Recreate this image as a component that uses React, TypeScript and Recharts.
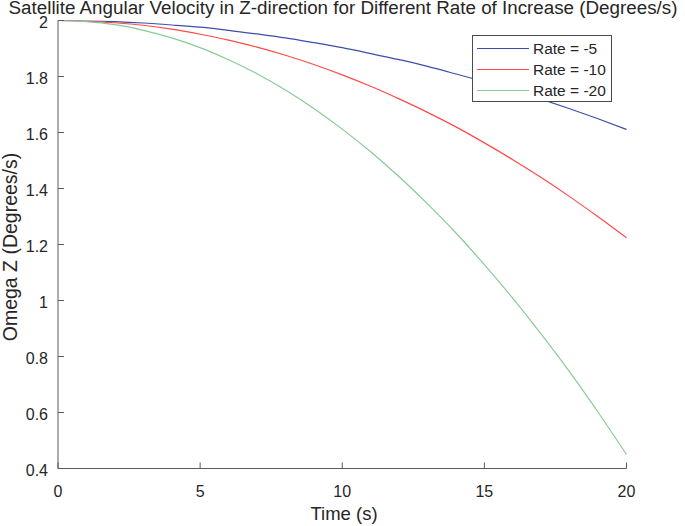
import React from "react";
import { LineChart, Line, XAxis, YAxis, Label } from "recharts";

const timeS = [0, 1, 2, 3, 4, 5, 6, 7, 8, 9, 10, 11, 12, 13, 14, 15, 16, 17, 18, 19, 20];
const omegaRate5 = [2, 1.999, 1.996, 1.991, 1.984, 1.976, 1.965, 1.952, 1.938, 1.921, 1.903, 1.882, 1.86, 1.836, 1.809, 1.781, 1.751, 1.719, 1.685, 1.649, 1.611];
const omegaRate10 = [2, 1.998, 1.992, 1.983, 1.969, 1.951, 1.93, 1.905, 1.876, 1.843, 1.806, 1.765, 1.72, 1.672, 1.62, 1.563, 1.503, 1.439, 1.371, 1.299, 1.224];
const omegaRate20 = [2, 1.996, 1.985, 1.965, 1.938, 1.903, 1.86, 1.81, 1.752, 1.686, 1.612, 1.531, 1.442, 1.345, 1.241, 1.128, 1.008, 0.88, 0.745, 0.601, 0.45];
const xTicks = [0, 5, 10, 15, 20];
const yTicks = [0.4, 0.6, 0.8, 1, 1.2, 1.4, 1.6, 1.8, 2];
const seriesNames = ["Rate = -5", "Rate = -10", "Rate = -20"];
const seriesColors = ["#3d4eaa", "#ff4a4a", "#86cc94"];
const titleText = "Satellite Angular Velocity in Z-direction for Different Rate of Increase (Degrees/s)";
const xLabelText = "Time (s)";
const yLabelText = "Omega Z (Degrees/s)";

const data = timeS.map((t, i) => ({
  t,
  r5: omegaRate5[i],
  r10: omegaRate10[i],
  r20: omegaRate20[i],
}));

const FONT = "'Liberation Sans', Arial, Helvetica, sans-serif";
const TEXT = "#262626";
const AXIS = "#5a5a5a";

const XTick = (props: any) => {
  const { x, y, payload } = props;
  return (
    <g>
      <line x1={x} x2={x} y1={y} y2={y - 6} stroke={AXIS} strokeWidth={1} />
      <text x={x} y={y + 28} textAnchor="middle" fontSize={16} fontFamily={FONT} fill={TEXT}>
        {payload.value}
      </text>
    </g>
  );
};

const YTick = (props: any) => {
  const { x, y, payload } = props;
  return (
    <g>
      <line x1={x} x2={x + 6} y1={y} y2={y} stroke={AXIS} strokeWidth={1} />
      <text x={x - 10} y={y + 7} textAnchor="end" fontSize={16} fontFamily={FONT} fill={TEXT}>
        {payload.value}
      </text>
    </g>
  );
};

const LegendBox = () => (
  <div
    style={{
      position: "absolute",
      left: 472,
      top: 35,
      width: 138,
      height: 63,
      border: "1px solid #4a4a4a",
      background: "#fff",
      boxSizing: "content-box",
      paddingTop: 2,
      fontFamily: FONT,
    }}
  >
    {seriesNames.map((n, i) => (
      <div key={n} style={{ display: "flex", alignItems: "center", height: 21 }}>
        <div style={{ marginLeft: 4, width: 52, height: 0, borderTop: `1.5px solid ${seriesColors[i]}` }} />
        <span style={{ marginLeft: 4, fontSize: 15.5, color: TEXT, lineHeight: "21px" }}>{n}</span>
      </div>
    ))}
  </div>
);

export default function App() {
  return (
    <div style={{ position: "relative", width: 685, height: 526, background: "#fff" }}>
      <style>{"body{margin:0;background:#fff}"}</style>
      <LineChart
        width={685}
        height={526}
        data={data}
        margin={{ top: 20.5, right: 58.5, bottom: 0, left: 0 }}
      >
        <text x={343} y={14} textAnchor="middle" fontSize={18.8} fontFamily={FONT} fill={TEXT}>
          {titleText}
        </text>
        <XAxis
          dataKey="t"
          type="number"
          domain={[0, 20]}
          ticks={xTicks}
          height={57.5}
          tickSize={0}
          tickMargin={0}
          tick={<XTick />}
          axisLine={{ stroke: AXIS, strokeWidth: 1 }}
          interval={0}
        >
          <Label
            content={() => (
              <text x={344} y={520} textAnchor="middle" fontSize={18.5} fontFamily={FONT} fill={TEXT}>
                {xLabelText}
              </text>
            )}
          />
        </XAxis>
        <YAxis
          type="number"
          domain={[0.4, 2]}
          ticks={yTicks}
          width={58}
          tickSize={0}
          tickMargin={0}
          tick={<YTick />}
          axisLine={{ stroke: AXIS, strokeWidth: 1 }}
          interval={0}
          allowDataOverflow
        >
          <Label
            content={() => (
              <text
                x={17}
                y={247}
                textAnchor="middle"
                fontSize={19.5}
                fontFamily={FONT}
                fill={TEXT}
                transform="rotate(-90, 17, 247)"
              >
                {yLabelText}
              </text>
            )}
          />
        </YAxis>
        <Line type="monotone" dataKey="r5" name={seriesNames[0]} stroke={seriesColors[0]} strokeWidth={1.2} dot={false} isAnimationActive={false} />
        <Line type="monotone" dataKey="r10" name={seriesNames[1]} stroke={seriesColors[1]} strokeWidth={1.2} dot={false} isAnimationActive={false} />
        <Line type="monotone" dataKey="r20" name={seriesNames[2]} stroke={seriesColors[2]} strokeWidth={1.2} dot={false} isAnimationActive={false} />
      </LineChart>
      <LegendBox />
    </div>
  );
}
